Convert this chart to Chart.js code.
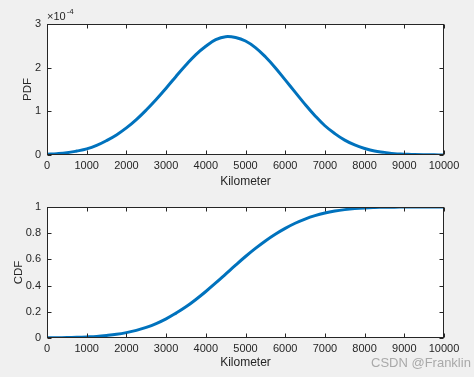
<!DOCTYPE html>
<html>
<head>
<meta charset="utf-8">
<script src="https://cdn.jsdelivr.net/npm/chart.js@4.4.1/dist/chart.umd.min.js"></script>
<style>
    body { margin: 0; background: #f0f0f0; width: 474px; height: 377px; overflow: hidden; position: relative; }
    .box { position: absolute; left: 0; width: 474px; }
    #topBox { top: 0; height: 190px; }
    #botBox { top: 190px; height: 187px; }
    .mark { position: absolute; left: 371px; top: 355px; color: #a9a9a9; font: 13px "Liberation Sans", Arial, sans-serif; white-space: nowrap; }
</style>
</head>
<body>
<div class="box" id="topBox"><canvas id="pdfChart" width="474" height="190"></canvas></div>
<div class="box" id="botBox"><canvas id="cdfChart" width="474" height="187"></canvas></div>
<div class="mark">CSDN @Franklin</div>
<script>
// distance samples, km
var km = [0, 250, 500, 750, 1000, 1250, 1500, 1750, 2000, 2250, 2500, 2750, 3000, 3250, 3500, 3750,
    4000, 4250, 4500, 4750, 5000, 5250, 5500, 5750, 6000, 6250, 6500, 6750, 7000, 7250, 7500, 7750,
    8000, 8250, 8500, 8750, 9000, 9250, 9500, 9750, 10000];
// PDF, in units of 1e-4
var pdfValues = [0.02, 0.03, 0.05, 0.09, 0.14, 0.22, 0.33, 0.46, 0.62, 0.81, 1.03, 1.27, 1.53, 1.80, 2.06, 2.30,
    2.49, 2.64, 2.71, 2.69, 2.61, 2.46, 2.25, 2.00, 1.72, 1.44, 1.16, 0.90, 0.67, 0.49, 0.34, 0.23,
    0.15, 0.09, 0.06, 0.03, 0.02, 0.01, 0.005, 0.003, 0.001];
var cdfValues = [0.001, 0.002, 0.003, 0.005, 0.008, 0.012, 0.019, 0.028, 0.041, 0.058, 0.081, 0.11, 0.146, 0.19, 0.238, 0.294,
    0.355, 0.42, 0.488, 0.556, 0.622, 0.684, 0.741, 0.792, 0.837, 0.876, 0.908, 0.934, 0.954, 0.969, 0.98, 0.988,
    0.993, 0.996, 0.998, 0.999, 0.9995, 1, 1, 1, 1];
var xTicks = [0, 1000, 2000, 3000, 4000, 5000, 6000, 7000, 8000, 9000, 10000];
var pdfTicks = [0, 1, 2, 3];
var cdfTicks = [0, 0.2, 0.4, 0.6, 0.8, 1];

var axisColor = '#262626';
var lineColor = '#0072bd';
var fontName = '"Liberation Sans", Arial, sans-serif';

// white plot area, box outline and inward ticks, like matlab axes
var matlabBox = {
    id: 'matlabBox',
    beforeDraw: function (chart) {
        var a = chart.chartArea, ctx = chart.ctx;
        ctx.save();
        ctx.fillStyle = '#ffffff';
        ctx.fillRect(a.left, a.top, a.right - a.left, a.bottom - a.top);
        ctx.restore();
    },
    afterDraw: function (chart) {
        var a = chart.chartArea, ctx = chart.ctx;
        var xs = chart.scales.x, ys = chart.scales.y;
        var l = Math.round(a.left) + 0.5, r = Math.round(a.right) - 0.5;
        var t = Math.round(a.top) + 0.5, b = Math.round(a.bottom) - 0.5;
        ctx.save();
        ctx.strokeStyle = axisColor;
        ctx.lineWidth = 1;
        ctx.beginPath();
        xs.ticks.forEach(function (tk) {
            var px = Math.round(xs.getPixelForValue(tk.value)) + 0.5;
            ctx.moveTo(px, b); ctx.lineTo(px, b - 4);
            ctx.moveTo(px, t); ctx.lineTo(px, t + 4);
        });
        ys.ticks.forEach(function (tk) {
            var py = Math.round(ys.getPixelForValue(tk.value)) + 0.5;
            ctx.moveTo(l, py); ctx.lineTo(l + 4, py);
            ctx.moveTo(r, py); ctx.lineTo(r - 4, py);
        });
        ctx.stroke();
        ctx.strokeRect(l, t, r - l, b - t);
        var exp = chart.options.plugins.matlabBox && chart.options.plugins.matlabBox.exponent;
        if (exp) {
            ctx.fillStyle = axisColor;
            ctx.textBaseline = 'alphabetic';
            ctx.font = '11px ' + fontName;
            ctx.fillText('\u00d710', a.left, a.top - 4);
            var w = ctx.measureText('\u00d710').width;
            ctx.font = '8px ' + fontName;
            ctx.fillText(exp, a.left + w + 1, a.top - 10);
        }
        ctx.restore();
    }
};

function setTicks(list) {
    return function (scale) {
        scale.ticks = list.map(function (v) { return { value: v }; });
    };
}

function plainLabel(v) {
    return String(v);
}

function makeChart(id, values, yTicks, yMax, yTitle, opts) {
    var points = km.map(function (x, i) { return { x: x, y: values[i] }; });
    return new Chart(document.getElementById(id), {
        type: 'line',
        data: {
            datasets: [{
                data: points,
                borderColor: lineColor,
                borderWidth: 3,
                pointRadius: 0,
                fill: false,
                tension: 0.4
            }]
        },
        options: {
            responsive: false,
            animation: false,
            layout: { padding: { left: 0, top: opts.top, right: 30, bottom: 0 } },
            plugins: {
                legend: { display: false },
                tooltip: { enabled: false },
                matlabBox: { exponent: opts.exponent }
            },
            scales: {
                x: {
                    type: 'linear',
                    min: 0,
                    max: 10000,
                    afterBuildTicks: setTicks(xTicks),
                    afterFit: function (s) { s.height = opts.xHeight; },
                    grid: { display: false, drawTicks: false },
                    border: { display: false },
                    ticks: { color: axisColor, padding: 4, maxRotation: 0, callback: plainLabel, font: { family: fontName, size: 11 } },
                    title: { display: true, text: 'Kilometer', color: axisColor, padding: { top: 0, bottom: opts.xTitlePad }, font: { family: fontName, size: 12 } }
                },
                y: {
                    min: 0,
                    max: yMax,
                    afterBuildTicks: setTicks(yTicks),
                    afterFit: function (s) { s.width = 47; },
                    grid: { display: false, drawTicks: false },
                    border: { display: false },
                    ticks: { color: axisColor, padding: 6, callback: plainLabel, font: { family: fontName, size: 11 } },
                    title: { display: true, text: yTitle, color: axisColor, padding: { top: opts.yTitlePad, bottom: 0 }, font: { family: fontName, size: 11.5 } }
                }
            }
        },
        plugins: [matlabBox]
    });
}

makeChart('pdfChart', pdfValues, pdfTicks, 3, 'PDF', { top: 24, xHeight: 35, xTitlePad: 1, yTitlePad: 21, exponent: '-4' });
makeChart('cdfChart', cdfValues, cdfTicks, 1, 'CDF', { top: 17, xHeight: 39, xTitlePad: 7, yTitlePad: 12 });
</script>
</body>
</html>
